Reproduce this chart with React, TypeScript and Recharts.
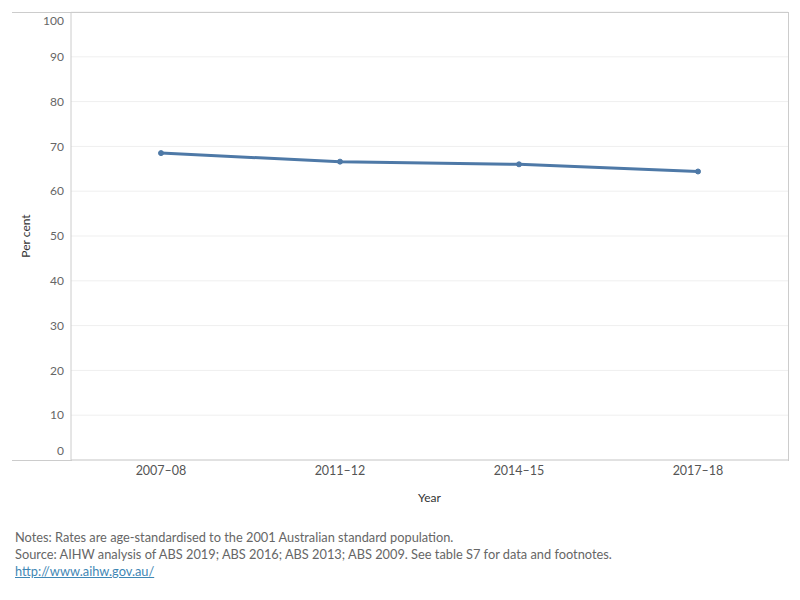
import React from 'react';
import { LineChart, Line, XAxis, YAxis, CartesianGrid } from 'recharts';

// Share of population (per cent), age-standardised
const years = ['2007–08', '2011–12', '2014–15', '2017–18'];
const perCent = [68.5, 66.6, 66.0, 64.4];
const yTicks = [0, 10, 20, 30, 40, 50, 60, 70, 80, 90, 100];

const data = years.map((year, i) => ({ year, value: perCent[i] }));

const FONT = 'Lato, "Open Sans", sans-serif';
const LINE_COLOR = '#4e79a7';
const FRAME = '#cccccc';

// Tableau-style end labels: 0 nudged up, 100 nudged down so they sit inside the frame
const YTick = (props: any) => {
  const { x, y, payload } = props;
  const shift = payload.value === 0 ? -9 : payload.value === 100 ? 9 : 0;
  return (
    <text x={x} y={y + shift} dy="0.35em" textAnchor="end" fill="#666" fontSize={12} fontFamily={FONT}>
      {payload.value}
    </text>
  );
};

const App: React.FC = () => {
  return (
    <div style={{ position: 'absolute', left: 0, top: 0, width: 800, height: 600, background: '#fff', fontFamily: FONT }}>
      <LineChart
        width={800}
        height={520}
        data={data}
        margin={{ top: 12, right: 12, bottom: 12, left: 12 }}
      >
        <CartesianGrid vertical={false} stroke="#efefef" />
        <XAxis
          dataKey="year"
          padding={{ left: 90, right: 90 }}
          tickLine={false}
          tickSize={0}
          tickMargin={6}
          height={48}
          axisLine={{ stroke: FRAME }}
          tick={{ fill: '#555', fontSize: 12.5, fontFamily: FONT }}
          label={{ value: 'Year', position: 'insideBottom', offset: 6, fill: '#333', fontSize: 12, fontFamily: FONT }}
        />
        <YAxis
          domain={[0, 100]}
          ticks={yTicks}
          interval={0}
          width={59}
          tickLine={false}
          tickSize={0}
          tickMargin={7}
          axisLine={{ stroke: FRAME }}
          tick={<YTick />}
          label={{
            value: 'Per cent',
            angle: -90,
            position: 'insideLeft',
            offset: 14,
            fill: '#333',
            fontSize: 12,
            fontFamily: FONT,
            style: { textAnchor: 'middle' },
          }}
        />
        <Line
          type="linear"
          dataKey="value"
          stroke={LINE_COLOR}
          strokeWidth={3}
          dot={{ r: 2.5, fill: LINE_COLOR, stroke: LINE_COLOR, strokeWidth: 1 }}
          activeDot={false}
          isAnimationActive={false}
        />
      </LineChart>

      {/* frame pieces Tableau draws beyond the axes */}
      <div style={{ position: 'absolute', left: 12, top: 12, width: 776, height: 1, background: FRAME }} />
      <div style={{ position: 'absolute', left: 12, top: 460, width: 60, height: 1, background: FRAME }} />
      <div style={{ position: 'absolute', left: 788, top: 12, width: 1, height: 449, background: FRAME }} />

      <div style={{ position: 'absolute', left: 15, top: 529, fontSize: 12.8, lineHeight: '17px', color: '#666' }}>
        <div>Notes: Rates are age-standardised to the 2001 Australian standard population.</div>
        <div>Source: AIHW analysis of ABS 2019; ABS 2016; ABS 2013; ABS 2009. See table S7 for data and footnotes.</div>
        <div>
          <a href="http://www.aihw.gov.au/" style={{ color: '#3f87b5' }}>http://www.aihw.gov.au/</a>
        </div>
      </div>
    </div>
  );
};

export default App;
